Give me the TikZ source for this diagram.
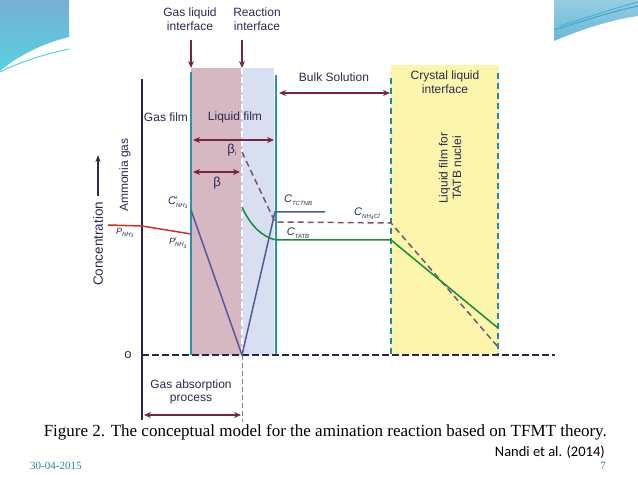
\documentclass[tikz,border=0pt]{standalone}
\usepackage{fontspec}
\setmainfont{Liberation Sans}
\newfontfamily\capfont{Liberation Serif}
\newfontfamily\calfont{Carlito}
\usetikzlibrary{arrows.meta}
\definecolor{maroonc}{RGB}{118,36,70}
\definecolor{navyc}{RGB}{38,38,70}
\definecolor{ifblue}{RGB}{40,145,180}
\definecolor{pinkf}{RGB}{214,184,194}
\definecolor{bluef}{RGB}{216,223,240}
\definecolor{yellf}{RGB}{252,245,172}
\definecolor{teald}{RGB}{30,140,155}
\definecolor{slatec}{RGB}{78,92,152}
\definecolor{redl}{RGB}{200,50,40}
\definecolor{greenl}{RGB}{22,140,60}
\definecolor{purpd}{RGB}{120,82,112}
\definecolor{txtc}{RGB}{42,42,78}
\definecolor{swA}{RGB}{120,175,210}
\definecolor{swB}{RGB}{85,210,225}
\definecolor{swC}{RGB}{150,205,225}
\definecolor{swD}{RGB}{70,170,210}
\definecolor{datec}{RGB}{40,130,150}
\newcommand{\clab}[3]{\textit{#1}\rlap{\raisebox{0.9ex}{\fontsize{6}{6}\selectfont\itshape #2}}\raisebox{-0.5ex}{\fontsize{6}{6}\selectfont\itshape #3}}
\begin{document}
\begin{tikzpicture}[x=1pt,y=-1pt,
  lab/.style={font=\fontsize{12}{13.5}\selectfont, text=txtc, align=center, inner sep=0pt},
  clb/.style={font=\fontsize{11}{12}\selectfont, text=txtc, inner sep=0pt},
  arr/.style={maroonc, line width=1.3pt, -{Stealth[length=7pt,width=6pt]}},
  darr/.style={maroonc, line width=1.3pt, {Stealth[length=7pt,width=6pt]}-{Stealth[length=7pt,width=6pt]}},
  ifline/.style={ifblue, line width=1.5pt},
  tdash/.style={teald, line width=1.5pt, dash pattern=on 6pt off 4pt},
  dline/.style={line width=1.5pt}]
\useasboundingbox (0,0) rectangle (638,478);
% slide decorations
\shade[top color=swA, bottom color=swB] (0,0) -- (69,0) -- (69,37) .. controls (40,44) and (15,58) .. (0,71) -- cycle;
\draw[swB, line width=1pt] (69,49) .. controls (45,54) and (20,62) .. (0,72);
\shade[top color=swC, bottom color=swD!60!swC] (554,0) -- (638,0) -- (638,16) .. controls (610,20) and (580,30) .. (554,41) -- cycle;
\draw[swD, line width=1.2pt] (554,30) .. controls (580,22) and (610,12) .. (638,6);
\draw[swD, line width=0.8pt] (560,26) .. controls (585,18) and (612,9) .. (638,2);
% regions
\fill[pinkf] (191,68) rectangle (242,355);
\fill[bluef] (242,68) rectangle (274,355);
\fill[yellf] (391,65) rectangle (499,355);
% coordinates
\coordinate (gfT) at (142,79); \coordinate (gfB) at (142,420);
\coordinate (glT) at (191,72); \coordinate (glB) at (191,355);
\coordinate (riT) at (242,68); \coordinate (riB) at (242,355);
\coordinate (rlT) at (276,75); \coordinate (rlB) at (276,355);
\coordinate (clT) at (391,78); \coordinate (clB) at (391,355);
\coordinate (crT) at (498,73); \coordinate (crB) at (498,355);
\coordinate (bL) at (142,355); \coordinate (bR) at (555,355);
% lines
\draw[navyc, line width=1.6pt] (gfT) -- (gfB);
\draw[ifline] (glT) -- (glB);
\draw[ifline] (rlT) -- (rlB);
\draw[white, line width=1.3pt, dash pattern=on 6pt off 3pt] (riT) -- (riB);
\draw[tdash] (clT) -- (clB);
\draw[tdash] (crT) -- (crB);
\draw[navyc, line width=1.4pt, dash pattern=on 7pt off 3pt] (bL) -- (bR);
\coordinate (gaB) at (242,422);
\draw[gray, line width=1pt, dash pattern=on 5pt off 3pt] (riB) -- (gaB);
% top labels and arrows
\node[lab] (gli) at (190,19) {Gas liquid\\interface};
\node[lab] (rei) at (257,19) {Reaction\\interface};
\coordinate (a1) at (191,40); \coordinate (a1e) at (191,68);
\coordinate (a2) at (242,40); \coordinate (a2e) at (242,68);
\draw[arr] (a1) -- (a1e);
\draw[arr] (a2) -- (a2e);
\node[lab] (gf) at (166,117) {Gas film};
\node[lab] (lf) at (235,117) {Liquid film};
\node[lab] (bs) at (334,77) {Bulk Solution};
\coordinate (bsL) at (279,93); \coordinate (bsR) at (390,93);
\draw[darr] (bsL) -- (bsR);
\node[lab] (cli) at (445,82) {Crystal liquid\\interface};
\node[lab, rotate=90] (lft) at (450,168) {Liquid film for\\TATB nuclei};
\node[lab, font=\fontsize{13.5}{14}\selectfont, rotate=90, anchor=west] (conc) at (98,286) {Concentration};
\coordinate (cA) at (98,196); \coordinate (cB) at (98,155);
\draw[txtc, line width=1.1pt, -{Stealth[length=7pt,width=5pt]}] (cA) -- (cB);
\node[lab, rotate=90] (amg) at (125,175) {Ammonia gas};
\node[lab, font=\fontsize{13}{14}\selectfont] (zero) at (128,355) {o};
% beta arrows
\coordinate (biL) at (193,140); \coordinate (biR) at (274,140);
\draw[darr] (biL) -- (biR);
\node[lab, font=\fontsize{13}{14}\selectfont] (bi) at (232,150) {β\textsubscript{\fontsize{6}{6}\selectfont i}};
\coordinate (bL1) at (193,172); \coordinate (bR1) at (240,172);
\draw[darr] (bL1) -- (bR1);
\node[lab, font=\fontsize{13}{14}\selectfont] (b) at (217,183) {β};
% gas absorption
\node[lab] (gap) at (191,392) {Gas absorption\\process};
\coordinate (gaL) at (144,415); \coordinate (gaR) at (241,415);
\draw[darr] (gaL) -- (gaR);
% concentration profiles
\coordinate (p0) at (108,225); \coordinate (p1) at (142,226); \coordinate (p2) at (191,234);
\draw[redl, dline] (p0) -- (p1) -- (p2);
\coordinate (s0) at (191,210); \coordinate (s1) at (242,355); \coordinate (s2) at (275,212); \coordinate (s3) at (325,212);
\draw[slatec, dline] (s0) -- (s1) -- (s2) -- (s3);
\coordinate (d0) at (242,152); \coordinate (d1) at (275,222); \coordinate (d2) at (391,223); \coordinate (d3) at (498,347);
\draw[purpd, dline, dash pattern=on 6pt off 4pt] (d0) -- (d1) -- (d2) -- (d3);
\coordinate (g0) at (242,207); \coordinate (g1) at (276,240); \coordinate (g2) at (391,240); \coordinate (g3) at (498,328);
\draw[greenl, dline] (g0) .. controls (250,225) and (262,237) .. (g1) -- (g2) -- (g3);
% profile labels
\node[clb] (lc) at (178,202) {\clab{C}{i}{NH\textsubscript{3}}};
\node[clb, font=\fontsize{9}{10}\selectfont] (lp) at (125,233) {\clab{P}{}{NH\textsubscript{3}}};
\node[clb, font=\fontsize{9}{10}\selectfont] (lpi) at (178,242) {\clab{P}{i}{NH\textsubscript{3}}};
\node[clb] (ltc) at (298,200) {\clab{C}{}{TCTNB}};
\node[clb] (lnh) at (367,214) {\clab{C}{}{NH\textsubscript{4}Cl}};
\node[clb] (lta) at (298,233) {\clab{C}{}{TATB}};
% caption
\node[inner sep=0pt, font=\capfont\fontsize{17}{19}\selectfont, anchor=east] (cap) at (607,432) {Figure 2. The conceptual model for the amination reaction based on TFMT theory.};
\node[inner sep=0pt, font=\calfont\fontsize{14.5}{16}\selectfont, anchor=east] (ref) at (605,452) {Nandi et al. (2014)};
\node[inner sep=0pt, font=\capfont\fontsize{11}{12}\selectfont, text=datec, anchor=west] (date) at (30,466) {30-04-2015};
\node[inner sep=0pt, font=\capfont\fontsize{11}{12}\selectfont, text=datec, anchor=east] (pg) at (606,466) {7};
\end{tikzpicture}
\end{document}
